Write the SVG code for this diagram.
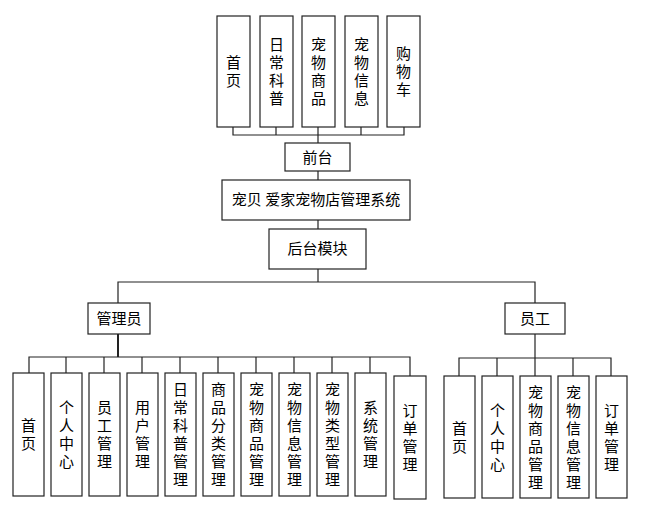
<svg xmlns="http://www.w3.org/2000/svg" width="652" height="511" viewBox="0 0 652 511">
<style>
rect{fill:#fff;stroke:#222;stroke-width:1.2}
text{font-family:"Noto Sans CJK SC",sans-serif;font-size:15px;fill:#000;text-anchor:middle}
.v{writing-mode:vertical-rl;text-orientation:upright;letter-spacing:3px}
.c line,.c polyline{stroke:#222;stroke-width:1.2;fill:none}
</style>
<rect x="0" y="0" width="652" height="511" style="fill:#fff;stroke:none"/>
<g class="c" id="connectors">
<polyline points="233,127 233,135 404,135 404,127"/>
<line x1="276" y1="127" x2="276" y2="135"/><line x1="318" y1="127" x2="318" y2="143"/>
<line x1="361" y1="127" x2="361" y2="135"/>
<line x1="318" y1="171" x2="318" y2="180"/><line x1="318" y1="220" x2="318" y2="229"/>
<line x1="318" y1="269" x2="318" y2="282"/>
<polyline points="118,303 118,282 535,282 535,303"/>
<line x1="118" y1="334" x2="118" y2="357" style="stroke-width:2"/>
<polyline points="29,373 29,357 410,357 410,376"/>
<line x1="66" y1="357" x2="66" y2="373"/><line x1="104" y1="357" x2="104" y2="373"/><line x1="142" y1="357" x2="142" y2="373"/><line x1="180" y1="357" x2="180" y2="373"/><line x1="218" y1="357" x2="218" y2="373"/><line x1="256" y1="357" x2="256" y2="373"/><line x1="294" y1="357" x2="294" y2="373"/><line x1="332" y1="357" x2="332" y2="373"/><line x1="370" y1="357" x2="370" y2="373"/>
<line x1="535" y1="334" x2="535" y2="358"/>
<polyline points="459,376 459,358 611,358 611,376"/>
<line x1="497" y1="358" x2="497" y2="376"/><line x1="535" y1="358" x2="535" y2="376"/><line x1="573" y1="358" x2="573" y2="376"/>
</g>
<g id="f1"><rect x="217" y="16" width="33" height="111"/><text class="v" x="233.5" y="73">首页</text></g>
<g id="f2"><rect x="260" y="16" width="33" height="111"/><text class="v" x="276.5" y="73">日常科普</text></g>
<g id="f3"><rect x="302" y="16" width="33" height="111"/><text class="v" x="318.5" y="73">宠物商品</text></g>
<g id="f4"><rect x="345" y="16" width="33" height="111"/><text class="v" x="361.5" y="73">宠物信息</text></g>
<g id="f5"><rect x="387" y="16" width="33" height="111"/><text class="v" x="403.5" y="73">购物车</text></g>
<g id="qt"><rect x="285" y="143" width="65" height="28"/><text x="317.5" y="163">前台</text></g>
<g id="sys"><rect x="222" y="180" width="188" height="40"/><text x="316" y="205">宠贝 爱家宠物店管理系统</text></g>
<g id="ht"><rect x="269" y="229" width="97" height="40"/><text x="317.5" y="254">后台模块</text></g>
<g id="gly"><rect x="88" y="303" width="62" height="31"/><text x="119" y="324">管理员</text></g>
<g id="yg"><rect x="505" y="303" width="60" height="31"/><text x="535" y="324">员工</text></g>
<g id="a1"><rect x="13" y="373" width="31" height="123"/><text class="v" x="28.5" y="436">首页</text></g>
<g id="a2"><rect x="51" y="373" width="31" height="123"/><text class="v" x="66.5" y="436">个人中心</text></g>
<g id="a3"><rect x="89" y="373" width="31" height="123"/><text class="v" x="104.5" y="436">员工管理</text></g>
<g id="a4"><rect x="127" y="373" width="31" height="123"/><text class="v" x="142.5" y="436">用户管理</text></g>
<g id="a5"><rect x="165" y="373" width="31" height="123"/><text class="v" x="180.5" y="436">日常科普管理</text></g>
<g id="a6"><rect x="203" y="373" width="31" height="123"/><text class="v" x="218.5" y="436">商品分类管理</text></g>
<g id="a7"><rect x="241" y="373" width="31" height="123"/><text class="v" x="256.5" y="436">宠物商品管理</text></g>
<g id="a8"><rect x="279" y="373" width="31" height="123"/><text class="v" x="294.5" y="436">宠物信息管理</text></g>
<g id="a9"><rect x="317" y="373" width="31" height="123"/><text class="v" x="332.5" y="436">宠物类型管理</text></g>
<g id="a10"><rect x="355" y="373" width="31" height="123"/><text class="v" x="370.5" y="436">系统管理</text></g>
<g id="a11"><rect x="394" y="376" width="32" height="123"/><text class="v" x="410" y="439">订单管理</text></g>
<g id="s1"><rect x="444" y="376" width="31" height="122"/><text class="v" x="459.5" y="439">首页</text></g>
<g id="s2"><rect x="482" y="376" width="31" height="122"/><text class="v" x="497.5" y="439">个人中心</text></g>
<g id="s3"><rect x="520" y="376" width="31" height="122"/><text class="v" x="535.5" y="439">宠物商品管理</text></g>
<g id="s4"><rect x="558" y="376" width="31" height="122"/><text class="v" x="573.5" y="439">宠物信息管理</text></g>
<g id="s5"><rect x="596" y="376" width="31" height="122"/><text class="v" x="611.5" y="439">订单管理</text></g>
</svg>
